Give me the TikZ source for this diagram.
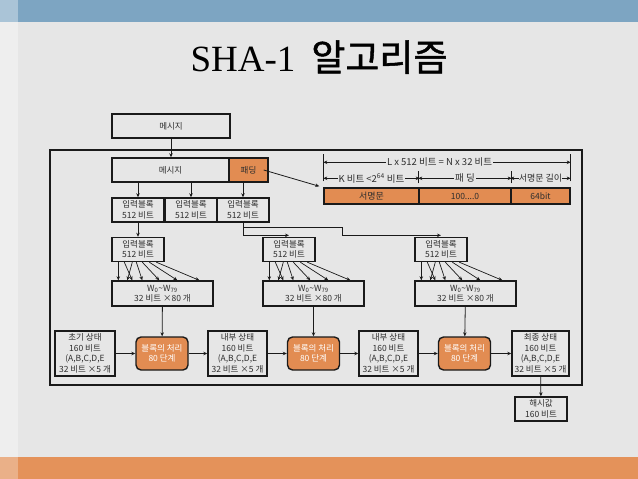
\documentclass[tikz,border=0pt]{standalone}
\usepackage{fontspec}
\setmainfont{Noto Sans CJK KR}
\newfontfamily\krfont[FakeBold=1.2]{Noto Sans CJK KR}
\newfontfamily\titlefont{Liberation Serif}
\usetikzlibrary{calc,arrows.meta}
\definecolor{bgc}{RGB}{230,230,230}
\definecolor{stripc}{RGB}{238,238,238}
\definecolor{bluec}{RGB}{125,165,194}
\definecolor{bluelt}{RGB}{170,196,215}
\definecolor{bandc}{RGB}{228,146,90}
\definecolor{bandlt}{RGB}{234,176,136}
\definecolor{orng}{RGB}{226,140,82}
\definecolor{linec}{RGB}{26,26,26}
\definecolor{textc}{RGB}{45,45,45}

\begin{document}
\begin{tikzpicture}[x=1pt,y=-1pt,>={Stealth[length=4pt,width=3.5pt]}]
\tikzstyle{box}=[draw=linec,line width=1.4pt,inner sep=0pt,align=center,text=textc,font=\fontsize{8.5}{10.5}\selectfont]
\tikzstyle{obox}=[box,fill=orng]
\tikzstyle{proc}=[box,fill=orng,rounded corners=5pt,minimum width=52pt,minimum height=33pt,text=white]
\tikzstyle{state}=[box,minimum width=59pt,minimum height=45pt]
\tikzstyle{inblk}=[box,minimum width=52pt,minimum height=24pt]
\tikzstyle{wbox}=[box,minimum width=101pt,minimum height=25pt]
\tikzstyle{arr}=[->,line width=0.8pt,draw=linec]
\tikzstyle{fan}=[->,line width=0.7pt,draw=linec]
\tikzstyle{dim}=[<->,line width=0.7pt,draw=linec]
\tikzstyle{dimtick}=[line width=0.8pt,draw=linec]
\tikzstyle{dimtxt}=[fill=bgc,inner sep=1pt,text=textc,font=\fontsize{9.5}{10}\selectfont]

% background
\fill[bgc] (0,0) rectangle (638,479);
\fill[stripc] (0,0) rectangle (18,479);
\fill[bluec] (0,0) rectangle (638,22);
\fill[bluelt] (0,0) rectangle (18,22);
\fill[bandc] (0,457) rectangle (638,479);
\fill[bandlt] (0,457) rectangle (18,479);
\useasboundingbox (0,0) rectangle (638,479);

\node (title) [anchor=base,text=black,inner sep=0pt] at (319,71) {\fontsize{37}{40}\selectfont\titlefont SHA-1\hspace{16pt}\krfont 알고리즘};

% frame
\draw[line width=1.5pt,draw=linec] (50,150) rectangle (582,385);

\node (msgtop) [box,minimum width=118pt,minimum height=24pt] at (171,126) {메시지};
\node (msg) [box,minimum width=117pt,minimum height=24pt] at (170.5,170) {메시지};
\node (pad) [obox,minimum width=39pt,minimum height=24pt] at (248.5,170) {패딩};

\node (in1) [inblk] at (138,210) {입력블록\\512 비트};
\node (in2) [inblk] at (191,210) {입력블록\\512 비트};
\node (in3) [inblk] at (243,210) {입력블록\\512 비트};

% message layout
\node (sig) [obox,minimum width=95pt,minimum height=16pt,font=\fontsize{9}{10}\selectfont] at (371.5,196) {서명문};
\node (pbits) [obox,minimum width=92pt,minimum height=16pt] at (465,196) {100....0};
\node (len) [obox,minimum width=59pt,minimum height=16pt] at (540.5,196) {64bit};

\draw[dimtick] (sig.north west) ++(0,-6) -- ++(0,-27);
\draw[dimtick] (len.north east) ++(0,-6) -- ++(0,-27);
\draw[dimtick] (pbits.north west) ++(0,-4) -- ++(0,-12);
\draw[dimtick] (pbits.north east) ++(0,-4) -- ++(0,-12);
\draw[dim] ($(sig.north west)+(0,-25)$) -- ($(len.north east)+(0,-25)$) node[dimtxt,pos=0.47] {L x 512 비트 = N x 32 비트};
\draw[dim] ($(sig.north west)+(0,-9)$) -- ($(sig.north east)+(0,-9)$) node[dimtxt,midway] {K 비트 <2\textsuperscript{64} 비트};
\draw[dim] ($(pbits.north west)+(0,-9)$) -- ($(pbits.north east)+(0,-9)$) node[dimtxt,midway] {패 딩};
\draw[dim] ($(len.north west)+(0,-9)$) -- ($(len.north east)+(0,-9)$) node[dimtxt,midway,inner sep=0pt,font=\fontsize{9}{10}\selectfont] {서명문 길이};

\node (b1) [inblk] at (138,249.5) {입력블록\\512 비트};
\node (b2) [inblk] at (289,249.5) {입력블록\\512 비트};
\node (b3) [inblk] at (441,249.5) {입력블록\\512 비트};

\node (w1) [wbox] at (162.5,293.5) {W\textsubscript{0}\textasciitilde W\textsubscript{79}\\32 비트 ×80 개};
\node (w2) [wbox] at (313.5,293.5) {W\textsubscript{0}\textasciitilde W\textsubscript{79}\\32 비트 ×80 개};
\node (w3) [wbox] at (465.5,293.5) {W\textsubscript{0}\textasciitilde W\textsubscript{79}\\32 비트 ×80 개};

\node (s0) [state,minimum width=60pt] at (85,353.5) {초기 상태\\160 비트\\(A,B,C,D,E\\32 비트 ×5 개};
\node (p1) [proc] at (162,353.5) {블록의 처리\\80 단계};
\node (s1) [state] at (237.5,353.5) {내부 상태\\160 비트\\(A,B,C,D,E\\32 비트 ×5 개};
\node (p2) [proc] at (313.5,353.5) {블록의 처리\\80 단계};
\node (s2) [state] at (388.5,353.5) {내부 상태\\160 비트\\(A,B,C,D,E\\32 비트 ×5 개};
\node (p3) [proc] at (464.5,353.5) {블록의 처리\\80 단계};
\node (s3) [state,minimum width=57pt] at (540.5,353.5) {최종 상태\\160 비트\\(A,B,C,D,E\\32 비트 ×5 개};
\node (hash) [box,minimum width=52pt,minimum height=24pt] at (541,409) {해시값\\160 비트};

\coordinate (bend) at (342,227);

\draw[arr] (msgtop.south) -- (msgtop.south |- msg.north);
\draw[arr] (msg.south -| in1) -- (in1);
\draw[arr] (msg.south -| in2) -- (in2);
\draw[arr] (msg.south -| in3) -- (in3);
\draw[arr] ([xshift=-5pt]pad.east) -- ([xshift=-4pt,yshift=1pt]sig.north west);

\draw[arr] (in1) -- (in1 |- b1.north);
\draw[arr] (in3.south) |- ([yshift=1.5pt]b2.north);
\draw[arr] (in3.south) |- (bend) |- ([yshift=1.5pt]b3.north);

\foreach \b/\w in {b1/w1,b2/w2,b3/w3}
  \foreach \s/\e in {7/7,13/21,21/16,25/31,31/48,38/66,45/88}
    \draw[fan] ($(\b.south west)+(\s,0)$) -- ($(\w.north west)+(\e,0)$);

\draw[arr] (w1) -- (p1);
\draw[arr] (w2) -- (p2);
\draw[arr] (w3) -- (p3);
\draw[arr] (s0) -- (p1);
\draw[arr] (p1) -- (s1);
\draw[arr] (s1) -- (p2);
\draw[arr] (p2) -- (s2);
\draw[arr] (s2) -- (p3);
\draw[arr] (p3) -- (s3);
\draw[arr] (s3) -- (hash);

\end{tikzpicture}
\end{document}
